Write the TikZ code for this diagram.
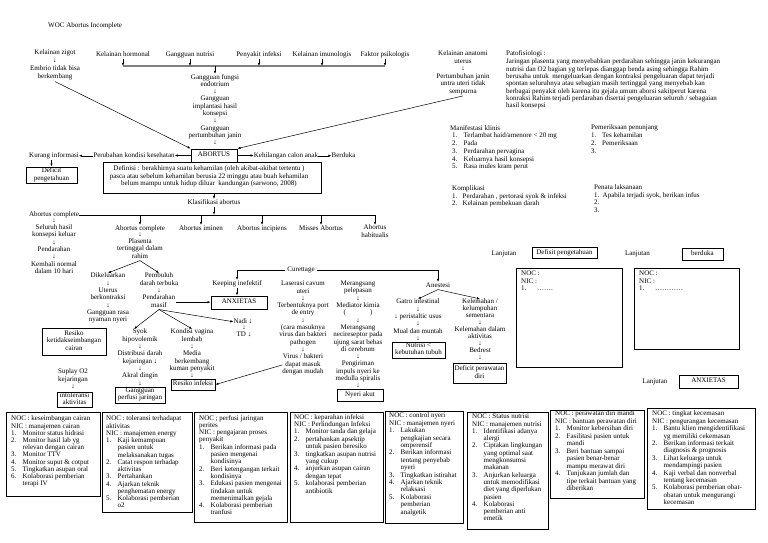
\documentclass[tikz,border=0pt]{standalone}
\usepackage{fontspec}
\setmainfont{Liberation Serif}
\usetikzlibrary{arrows.meta}
\newcommand\fsz[1]{\fontsize{7}{#1}\selectfont}
\newcommand\itm[3][11.5pt]{\makebox[#1][l]{#2}#3}
\newcommand\itc[2][11.5pt]{\hspace*{#1}#2}
\begin{document}
\begin{tikzpicture}[x=1pt,y=-1pt,
 tx/.style={inner sep=0pt, align=center, anchor=north, yshift=3.1pt, font=\fsz{7.3}, execute at begin node=\strut, execute at end node=\strut},
 txl/.style={tx, align=left, anchor=north west},
 bxt/.style={txl, yshift=-1pt},
 bx/.style={draw, line width=1pt, inner sep=0pt, align=center, font=\fsz{7.3}, execute at begin node=\strut, execute at end node=\strut},
 bigbox/.style={draw, line width=1pt, inner sep=0pt, anchor=north west},
 arr/.style={-{Latex[length=3pt,width=2.4pt]}, line width=0.5pt},
 ln/.style={line width=0.5pt},
]
\useasboundingbox[fill=white] (0,0) rectangle (768,543);

\node[txl] (title) at (48,25) {WOC Abortus Incomplete};

% causes
\node[tx, font=\fsz{8}] (zigot) at (55,53) {Kelainan zigot\\↓\\Embrio tidak bisa\\berkembang};
\node[tx] (hormon) at (123,54) {Kelainan hormonal};
\node[tx] (nutri) at (190,54) {Gangguan nutrisi};
\node[tx] (infek) at (259,54) {Penyakit infeksi};
\node[tx] (imun) at (322,54) {Kelainan imunologis};
\node[tx] (psiko) at (385,54) {Faktor psikologis};
\coordinate (cbL) at (123,66);
\coordinate (cbR) at (385,66);
\draw[gray, line width=1.1pt] (cbL) -- (cbR);
\foreach \n in {hormon,nutri,infek,imun,psiko} \draw[arr] (\n.south) -- (\n.south |- cbL);

\node[tx] (chain) at (215,77) {Gangguan fungsi\\endotrium\\↓\\Gangguan\\implantasi hasil\\konsepsi\\↓\\Gangguan\\pertumbuhan janin\\↓};
\draw[arr] (chain.north |- cbL) -- (chain.north);

\node[tx, font=\fsz{7.5}] (anat) at (463,54) {Kelainan anatomi\\uterus\\↓\\Pertumbuhan janin\\untra uteri tidak\\sempurna};

\node[bx, minimum width=46pt, minimum height=13pt] (abortus) at (214,155.5) {ABORTUS};
\draw[arr] (zigot.south) -- (abortus.north west);
\draw[arr] (anat.south) -- (abortus.north east);

\node[tx] (perub) at (134,155) {Perubahan kondisi kesehatan};
\node[tx] (kurang) at (54,155) {Kurang informasi};
\node[bx, minimum width=51pt, minimum height=16pt] (defpeng) at (51.5,175) {Deficit\\pengetahuan};
\draw[arr] (abortus.west) -- (abortus.west -| perub.east);
\draw[arr] (perub.west) -- (perub.west -| kurang.east);
\draw[arr] (defpeng.north |- kurang.south) -- (defpeng.north);

\node[tx] (kehil) at (286,155) {Kehilangan calon anak};
\node[tx] (berduka) at (343.5,155) {Berduka};
\draw[arr] (abortus.east) -- (abortus.east -| kehil.west);
\draw[arr] (kehil.east) -- (kehil.east -| berduka.west);

\node[draw, line width=1pt, minimum width=218pt, minimum height=31pt, inner sep=0pt] (defbox) at (212,177.5) {};
\node[tx, font=\fsz{7.5}] (deftext) at (209,168.5) {Definisi : berakhirnya suatu kehamilan (oleh akibat-akibat tertentu )\\pasca atau sebelum kehamilan berusia 22 minggu atau buah kehamilan\\belum mampu untuk hidup diluar\ \ kandungan (sarwono, 2008)};

\node[tx] (klas) at (214,202) {Klasifikasi abortus};
\draw[arr] (defbox.south -| klas.north) -- (klas.north);

\node[tx] (acL) at (54,214) {Abortus complete};
\node[tx] (acLc) at (54,221.3) {↓\\Seluruh hasil\\konsepsi keluar\\↓\\Pendarahan\\↓\\Kembali normal\\dalam 10 hari};
\node[tx] (acM) at (140,228) {Abortus complete};
\node[tx] (imin) at (201,228) {Abortus iminen};
\node[tx] (incip) at (262,228) {Abortus incipiens};
\node[tx] (misses) at (321,228) {Misses Abortus};
\node[tx] (habit) at (375,228) {Abortus\\habitualis};
\draw[ln] (acL.east) -- (acL.east -| habit.north);
\draw[arr] (klas.south) -- (klas.south |- acL.east);
\foreach \n in {acM,imin,incip,misses,habit} \draw[arr] (\n.north |- acL.east) -- (\n.north);

\node[tx] (plas) at (140,235.3) {↓\\Plasenta\\tertinggal dalam\\rahim};
\node[tx] (dikel) at (108,276) {Dikeluarkan\\↓\\Uterus\\berkontraksi\\↓\\Gangguan rasa\\nyaman nyeri};
\node[tx] (pemb) at (159,276) {Pembuluh\\darah terbuka\\↓};
\node[tx] (pendm) at (159,297.9) {Pendarahan\\masif};
\draw[arr] (plas.south) -- (dikel.north);
\draw[arr] (plas.south) -- (pemb.north);

\node[bx, minimum width=56pt, minimum height=13pt] (anx) at (239,302.5) {ANXIETAS};
\draw[arr] (pendm.east) -- (pendm.east -| anx.west);

\node[tx] (syok) at (140,332) {Syok\\hipovolemik\\↓\\Distribusi darah\\kejaringan ↓\\↓\\Akral dingin\\↓};
\node[bx, minimum width=50pt, minimum height=16pt] (perfusi) at (140,395) {Gangguan\\perfusi jaringan};
\node[tx] (kondisi) at (192,332) {Kondisi vagina\\lembab\\↓\\Media\\berkembang\\kuman penyakit\\↓};
\node[bx, minimum width=44pt, minimum height=11pt] (resinf) at (193,384.5) {Resiko infeksi};
\node[tx] (nadi) at (243,321) {Nadi ↓};
\node[tx] (td) at (244,328.3) {↓\\TD ↓};
\draw[arr] (pendm.south) -- ([xshift=-6pt]syok.north);
\draw[arr] (pendm.south) -- (kondisi.north);
\draw[arr] (pendm.south) -- (nadi.west);

\node[bx, minimum width=64pt, minimum height=27pt] (rkc) at (74,341.5) {Resiko\\ketidakseimbangan\\cairan};
\node[tx] (suplay) at (73,372) {Suplay O2\\kejaringan\\↓};
\node[bx, minimum width=35pt, minimum height=15pt] (intol) at (74.5,399.5) {intoleransi\\aktivitas};

% curettage
\node[tx, inner xsep=2pt] (curet) at (301,269) {Curettage};
\node[tx] (keeping) at (237,283) {Keeping inefektif};
\node[tx] (anest) at (438,285) {Anestesi};
\draw[arr] (curet.west) -| (keeping.north);
\draw[arr] (curet.east) -| (anest.north);
\draw[arr] (keeping.south) -- (keeping.south |- anx.north);

\node[tx] (laser) at (303,284) {Laserasi cavum\\uteri\\↓\\Terbentuknya port\\de entry\\↓\\(cara masuknya\\virus dan bakteri\\pathogen\\↓};
\node[tx] (virus) at (303,357) {Virus / bakteri\\dapat masuk\\dengan mudah};
\draw[arr] (virus.west) -- (resinf.east);

\node[tx] (meran) at (358,284) {Merangsang\\pelepasan\\↓\\Mediator kimia\\(\hspace{24pt})\\↓\\Merangsang\\necireseptor pada\\ujung sarat bebas\\di cerebrum\\↓\\Pengiriman\\impuls nyeri ke\\medulla spiralis\\↓};
\node[bx, minimum width=46pt, minimum height=12pt] (nyeri) at (360,395) {Nyeri akut};

\node[tx] (gatro) at (418,302) {Gatro intestinal\\↓\\↓ peristaltic usus\\↓\\Mual dan muntah\\↓};
\node[bx, minimum width=53pt, minimum height=16pt] (nutbox) at (418.5,350) {Nutrisi <\\kebutuhan tubuh};
\node[tx, font=\fsz{7}] (kelem) at (480,302) {Kelemahan /\\kelumpuhan\\sementara\\↓\\Kelemahan dalam\\aktivitas\\↓\\Bedrest\\↓};
\node[bx, minimum width=53pt, minimum height=20pt] (defper) at (479.5,373) {Deficit perawatan\\diri};
\draw[arr] (anest.south) -- (gatro.north);
\draw[arr] (anest.south) -- (kelem.north);

% right side texts
\node[txl] (patof) at (506,53) {Patofisiologi :};
\node[txl] (patoftext) at (506,62) {Jaringan plasenta yang menyebabkan perdarahan sehingga janin kekurangan\\nutrisi dan O2 bagian yg terlepas dianggap benda asing sehingga Rahim\\berusaha untuk\ \ mengeluarkan dengan kontraksi pengeluaran dapat terjadi\\spontan seluruhnya atau sebagian masih tertinggal yang menyebab kan\\berbagai penyakit oleh karena itu gejala umum aborsi sakitperut karena\\konraksi Rahim terjadi perdarahan disertai pengeluaran seluruh / sebagaian\\hasil konsepsi};

\node[txl, font=\fsz{7.75}] (manif) at (450,128) {Manifestasi klinis\\\hspace*{2pt}\itm{1.}{Terlambat haid/amenore < 20 mg}\\\hspace*{2pt}\itm{2.}{Pada}\\\hspace*{2pt}\itm{3.}{Perdarahan pervagina}\\\hspace*{2pt}\itm{4.}{Keluarnya hasil konsepsi}\\\hspace*{2pt}\itm{5.}{Rasa mules kram perut}};
\node[txl, font=\fsz{7.75}] (pemer) at (591,128) {Pemeriksaan penunjang\\\itm[11pt]{1.}{Tes kehamilan}\\\itm[11pt]{2.}{Pemeriksaan}\\\itm[11pt]{3.}{}};
\node[txl, font=\fsz{7.5}] (kompl) at (452,189) {Komplikasi\\\itm[10.5pt]{1.}{Perdarahan , pertorasi syok \& infeksi}\\\itm[10.5pt]{2.}{Kelainan pembekuan darah}};
\node[txl, font=\fsz{7.5}] (penata) at (594,188) {Penata laksanaan\\\itm[8.5pt]{1.}{Apabila terjadi syok, berikan infus}\\\itm[8.5pt]{2.}{}\\\itm[8.5pt]{3.}{}};

% lanjutan
\node[tx] (lanj1) at (504,253) {Lanjutan};
\node[bx, minimum width=65pt, minimum height=11pt] (defp2) at (564.5,253) {Defisit pengetahuan};
\node[tx] (lanj2) at (637.5,253) {Lanjutan};
\node[bx, minimum width=41pt, minimum height=12pt] (berd2) at (702.5,254) {berduka};
\node[bigbox, minimum width=106pt, minimum height=99pt] (noc1) at (516,268) {};
\node[bxt] (noc1t) at (521,273) {NOC :\\NIC :\\\itm[16pt]{1.}{…….}};
\node[bigbox, minimum width=105pt, minimum height=81pt] (noc2) at (634,268) {};
\node[bxt] (noc2t) at (639,273) {NOC :\\NIC :\\\itm[16pt]{1.}{…………}};
\node[tx] (lanj3) at (655,381) {Lanjutan};
\node[bx, minimum width=59pt, minimum height=13pt] (anx2) at (708.5,381.5) {ANXIETAS};

% bottom boxes
\node[bigbox, minimum width=94pt, minimum height=84pt] (bA) at (6,412) {};
\node[bxt, font=\fsz{7.2}] (bAt) at (11,418) {NOC : keseimbangan cairan\\NIC : manajemen cairan\\\itm{1.}{Monitor status hidrasi}\\\itm{2.}{Monitor hasil lab yg}\\\itc{relevan dengan cairan}\\\itm{3.}{Monitor TTV}\\\itm{4.}{Monitor suput \& cotput}\\\itm{5.}{Tingkatkan asupan oral}\\\itm{6.}{Kolaborasi pemberian}\\\itc{terapi IV}};

\node[bigbox, minimum width=90pt, minimum height=100pt] (bB) at (102,412) {};
\node[bxt, font=\fsz{7.25}] (bBt) at (106,418) {NOC : toleransi terhadapat\\aktivitas\\NIC : manajemen energy\\\itm{1.}{Kaji kemampuan}\\\itc{pasien untuk}\\\itc{melaksanakan tugas}\\\itm{2.}{Catat respon terhadap}\\\itc{aktivitas}\\\itm{3.}{Pertahankan}\\\itm{4.}{Ajarkan teknik}\\\itc{penghematan energy}\\\itm{5.}{Kolaborasi pemberian}\\\itc{o2}};

\node[bigbox, minimum width=93pt, minimum height=110pt] (bC) at (194,412) {};
\node[bxt, font=\fsz{7.3}] (bCt) at (199,417) {NOC ; perfusi jaringan\\perites\\NIC : pengajaran proses\\penyakit\\\itm{1.}{Berikan informasi pada}\\\itc{pasien mengenai}\\\itc{kondisinya}\\\itm{2.}{Beri ketengangan terkait}\\\itc{kondisinya}\\\itm{3.}{Edukasi pasien mengenai}\\\itc{tindakan untuk}\\\itc{memenimalkan gejala}\\\itm{4.}{Kolaborasi pemberian}\\\itc{tranfusi}};

\node[bigbox, minimum width=93pt, minimum height=110pt] (bD) at (290,412) {};
\node[bxt, font=\fsz{7.4}] (bDt) at (294,416) {NOC : keparahan infeksi\\NIC : Perlindungan Infeksi\\\itm{1.}{Monitor tanda dan gelaja}\\\itm{2.}{pertahankan apsektip}\\\itc{untuk pasien beresiko}\\\itm{3.}{tingkatkan asupan nutrisi}\\\itc{yang cukup}\\\itm{4.}{anjurkan asupan cairan}\\\itc{dengan tepat}\\\itm{5.}{kolaborasi pemberian}\\\itc{antibiotik}};

\node[bigbox, minimum width=78pt, minimum height=112pt] (bE) at (385,411) {};
\node[bxt, font=\fsz{7.4}] (bEt) at (389,415) {NOC : control nyeri\\NIC : manajemen nyeri\\\itm{1.}{Lakukan}\\\itc{pengkajian secara}\\\itc{omperensif}\\\itm{2.}{Berikan informasi}\\\itc{tentang penyebab}\\\itc{nyeri}\\\itm{3.}{Tingkatkan istirahat}\\\itm{4.}{Ajarkan teknik}\\\itc{relaksasi}\\\itm{5.}{Kolaborasi}\\\itc{pemberian}\\\itc{analgetik}};

\node[bigbox, minimum width=81pt, minimum height=117pt] (bF) at (467,412) {};
\node[bxt, font=\fsz{7.3}] (bFt) at (472,416) {NOC : Status nutrisi\\NIC : manajemen nutrisi\\\itm{1.}{Identifikasi adanya}\\\itc{alergi}\\\itm{2.}{Ciptakan lingkungan}\\\itc{yang optimal saat}\\\itc{mengkonsumsi}\\\itc{makanan}\\\itm{3.}{Anjurkan keluarga}\\\itc{untuk memodifikasi}\\\itc{diet yang diperlukan}\\\itc{pasien}\\\itm{4.}{Kolaborasi}\\\itc{pemberian anti}\\\itc{emetik}};

\node[bigbox, minimum width=94pt, minimum height=88pt] (bG) at (550,410) {};
\node[bxt, font=\fsz{7.5}] (bGt) at (555,413) {NOC : perawatan diri mandi\\NIC : bantuan perawatan diri\\\itm{1.}{Monitor kebersihan diri}\\\itm{2.}{Fasilitasi pasien untuk}\\\itc{mandi}\\\itm{3.}{Beri bantuan sampai}\\\itc{pasien benar-benar}\\\itc{mampu merawat diri}\\\itm{4.}{Tunjukaan jumlah dan}\\\itc{tipe terkait bantuan yang}\\\itc{diberikan}};

\node[bigbox, minimum width=108pt, minimum height=101pt] (bH) at (647,408) {};
\node[bxt, font=\fsz{7.4}] (bHt) at (652,413) {NOC : tingkat kecemasan\\NIC : pengurangan kecemasan\\\itm{1.}{Bantu klien mengidentifikasi}\\\itc{yg memiliki cekemasan}\\\itm{2.}{Berikan informasi terkait}\\\itc{diagnosis \& prognosis}\\\itm{3.}{Lihat keluarga untuk}\\\itc{mendampingi pasien}\\\itm{4.}{Kaji verbal dan nonverbal}\\\itc{tentang kecemasan}\\\itm{5.}{Kolaborasi pemberian obat-}\\\itc{obatan untuk mengurangi}\\\itc{kecemasan}};
\end{tikzpicture}
\end{document}
